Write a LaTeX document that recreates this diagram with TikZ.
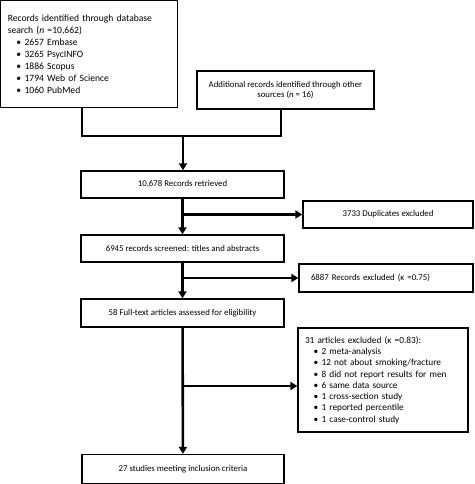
\documentclass[tikz,border=0pt]{standalone}
\usepackage{fontspec}
\setmainfont{Carlito}
\usetikzlibrary{arrows.meta}
\begin{document}
\begin{tikzpicture}[x=1pt,y=-1pt,
  box/.style={draw, line width=1.3pt, inner sep=0pt, font=\fontsize{8.8}{10}\selectfont},
  flow/.style={line width=2.6pt},
  arr/.style={flow, -{Triangle[length=7pt,width=8pt]}}]
\useasboundingbox (0,0) rectangle (474,484);
\newcommand{\bul}{\hspace*{8.5pt}\textbullet\hspace{3.5pt}}
\node[box, minimum width=177pt, minimum height=107pt, text width=163pt, align=left,
  font=\fontsize{9.6}{11.9}\selectfont] (b1) at (89.3,54.3) {Records identified through database\\
search (\textit{n} =10,662)\\
\bul 2657 Embase\\
\bul 3265 PsycINFO\\
\bul 1886 Scopus\\
\bul 1794 Web of Science\\
\bul 1060 PubMed};
\node[box, minimum width=177pt, minimum height=38pt, align=center] (b2) at (285.5,90)
  {Additional records identified through other\\ sources (\textit{n} = 16)};
\node[box, minimum width=203pt, minimum height=27pt] (b3) at (182.5,184.5) {10,678 Records retrieved};
\node[box, minimum width=170pt, minimum height=27pt] (dup) at (388,214.5) {3733 Duplicates excluded};
\node[box, minimum width=203pt, minimum height=27pt] (b4) at (182.5,248.5) {6945 records screened: titles and abstracts};
\node[box, minimum width=174pt, minimum height=28pt, text width=150pt, align=left] (ex1) at (386,278) {6887 Records excluded (κ =0.75)};
\node[box, minimum width=203pt, minimum height=28pt] (b5) at (182.5,313) {58 Full-text articles assessed for eligibility};
\node[box, minimum width=170pt, minimum height=104pt, text width=156pt, align=left,
  font=\fontsize{9.3}{11.3}\selectfont] (ex2) at (383,380) {31 articles excluded (κ =0.83):\\
\bul 2 meta-analysis\\
\bul 12 not about smoking/fracture\\
\bul 8 did not report results for men\\
\bul 6 same data source\\
\bul 1 cross-section study\\
\bul 1 reported percentile\\
\bul 1 case-control study};
\node[box, minimum width=202pt, minimum height=29pt] (b6) at (183,469) {27 studies meeting inclusion criteria};
\coordinate (c1) at (82,0);
\coordinate (c2) at (281,0);
\coordinate (m) at (183,136);
\coordinate (j3) at (183,386);
\draw[flow] (b1.south -| c1) |- (m);
\draw[flow] (b2.south -| c2) |- (m);
\draw[arr] (m) -- (m |- b3.north);
\draw[arr] (b3) -- (b4);
\draw[arr] (b3.south |- dup.west) -- (dup.west);
\draw[arr] (b4) -- (b5);
\draw[arr] (b4.south |- ex1.west) -- (ex1.west);
\draw[arr] (b5) -- (b6);
\draw[arr] (j3) -- (j3 -| ex2.west);
\end{tikzpicture}
\end{document}
